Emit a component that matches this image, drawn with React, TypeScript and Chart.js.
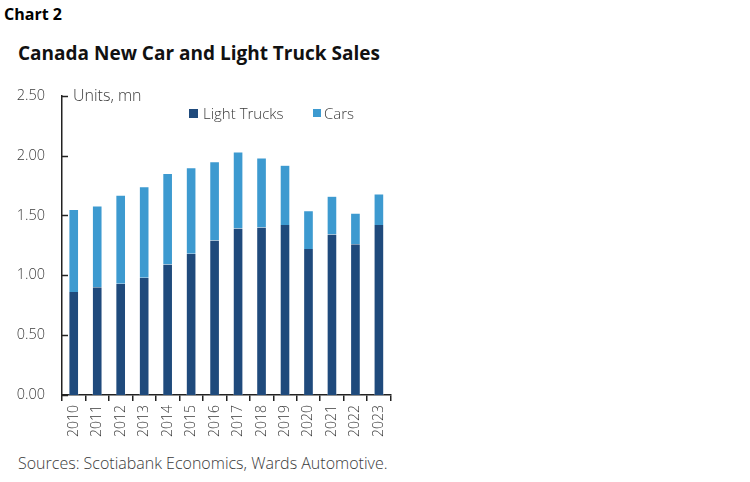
import { useEffect, useRef } from 'react';
import { Chart, registerables } from 'chart.js';

Chart.register(...registerables);

const YEARS = ['2010', '2011', '2012', '2013', '2014', '2015', '2016', '2017', '2018', '2019', '2020', '2021', '2022', '2023'];
const LIGHT_TRUCKS = [0.86, 0.9, 0.93, 0.98, 1.09, 1.18, 1.29, 1.39, 1.4, 1.42, 1.22, 1.34, 1.26, 1.42];
const CARS = [0.69, 0.68, 0.74, 0.76, 0.76, 0.72, 0.66, 0.64, 0.58, 0.5, 0.32, 0.32, 0.26, 0.26];
const Y_MIN = 0;
const Y_MAX = 2.5;
const Y_STEP = 0.5;

const TRUCK_COLOR = '#1f4a7c';
const CAR_COLOR = '#3d9ad0';
const AXIS_COLOR = '#222222';
const TEXT_COLOR = '#3a3a3a';
const FONT = '"Open Sans", Lato, sans-serif';

// short tick marks pointing into the plot, like the original
const innerTicks = {
  id: 'innerTicks',
  afterDraw(chart: Chart) {
    const { ctx, chartArea } = chart;
    const y = chart.scales.y;
    ctx.save();
    ctx.strokeStyle = AXIS_COLOR;
    ctx.lineWidth = 1.5;
    y.ticks.forEach((t) => {
      const py = Math.round(y.getPixelForValue(t.value)) + 0.5;
      ctx.beginPath();
      ctx.moveTo(chartArea.left, py);
      ctx.lineTo(chartArea.left + 6, py);
      ctx.stroke();
    });
    ctx.restore();
  },
};

export default function App() {
  const canvasRef = useRef<HTMLCanvasElement>(null);

  useEffect(() => {
    if (!canvasRef.current) return;
    const chart = new Chart(canvasRef.current, {
      type: 'bar',
      data: {
        labels: YEARS,
        datasets: [
          {
            label: 'Light Trucks',
            data: LIGHT_TRUCKS,
            backgroundColor: TRUCK_COLOR,
            borderColor: 'rgba(255,255,255,0.5)',
            borderWidth: { left: 0.6, right: 0.6, top: 0, bottom: 0 },
            barPercentage: 0.42,
            categoryPercentage: 1,
          },
          {
            label: 'Cars',
            data: CARS,
            backgroundColor: CAR_COLOR,
            borderColor: 'rgba(255,255,255,0.5)',
            borderWidth: { left: 0.6, right: 0.6, top: 0.6, bottom: 0 },
            barPercentage: 0.42,
            categoryPercentage: 1,
          },
        ],
      },
      options: {
        animation: false,
        responsive: true,
        maintainAspectRatio: false,
        layout: { padding: { top: 14, right: 8, left: 0, bottom: 0 } },
        plugins: {
          legend: { display: false },
          tooltip: { enabled: false },
        },
        scales: {
          x: {
            stacked: true,
            afterFit: (scale) => {
              scale.height = 50;
            },
            border: { display: true, color: AXIS_COLOR, width: 1.5 },
            grid: {
              display: true,
              drawOnChartArea: false,
              drawTicks: true,
              tickLength: 6,
              color: AXIS_COLOR,
              lineWidth: 1.5,
            },
            ticks: {
              color: TEXT_COLOR,
              font: { family: FONT, size: 14, weight: 300 },
              minRotation: 90,
              maxRotation: 90,
              padding: 4,
              autoSkip: false,
            },
          },
          y: {
            stacked: true,
            min: Y_MIN,
            max: Y_MAX,
            afterFit: (scale) => {
              scale.width = 62;
            },
            border: { display: true, color: AXIS_COLOR, width: 1.5 },
            grid: { display: false, drawTicks: false },
            ticks: {
              stepSize: Y_STEP,
              color: TEXT_COLOR,
              font: { family: FONT, size: 14.5, weight: 300 },
              padding: 17,
              callback: (v) => Number(v).toFixed(2),
            },
          },
        },
      },
      plugins: [innerTicks],
    });
    return () => {
      chart.destroy();
    };
  }, []);

  const lightText = { fontFamily: FONT, fontWeight: 300, color: TEXT_COLOR, position: 'absolute' as const, whiteSpace: 'nowrap' as const };

  return (
    <div style={{ position: 'absolute', left: 0, top: 0, width: 750, height: 482, background: '#fff', overflow: 'hidden' }}>
      <div style={{ position: 'absolute', left: 4, top: 3, fontFamily: FONT, fontWeight: 700, fontSize: 16, color: '#000' }}>Chart 2</div>
      <div style={{ position: 'absolute', left: 18, top: 40, fontFamily: FONT, fontWeight: 700, fontSize: 19, color: '#111', whiteSpace: 'nowrap' }}>
        Canada New Car and Light Truck Sales
      </div>
      <div style={{ position: 'absolute', left: 0, top: 70, width: 400, height: 375 }}>
        <canvas ref={canvasRef} />
      </div>
      <div style={{ ...lightText, left: 73, top: 84, fontSize: 16 }}>Units, mn</div>
      <div style={{ ...lightText, left: 189, top: 103, fontSize: 15, display: 'flex', alignItems: 'center' }}>
        <span style={{ display: 'inline-block', width: 9, height: 9, background: TRUCK_COLOR, marginRight: 5 }} />
        Light Trucks
      </div>
      <div style={{ ...lightText, left: 313, top: 103, fontSize: 15, display: 'flex', alignItems: 'center' }}>
        <span style={{ display: 'inline-block', width: 8, height: 8, background: CAR_COLOR, marginRight: 3 }} />
        Cars
      </div>
      <div style={{ ...lightText, left: 18, top: 452, fontSize: 16 }}>Sources: Scotiabank Economics, Wards Automotive.</div>
    </div>
  );
}
